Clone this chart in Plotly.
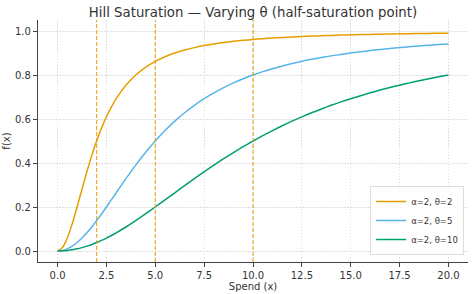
import plotly.graph_objects as go

x_vals = [0.0, 0.25, 0.5, 0.75, 1.0, 1.25, 1.5, 1.75, 2.0, 2.25, 2.5, 2.75, 3.0, 3.5, 4.0, 4.5,
          5.0, 5.5, 6.0, 6.5, 7.0, 7.5, 8.0, 8.5, 9.0, 9.5, 10.0, 10.5, 11.0, 11.5, 12.0,
          12.5, 13.0, 13.5, 14.0, 14.5, 15.0, 15.5, 16.0, 16.5, 17.0, 17.5, 18.0, 18.5,
          19.0, 19.5, 20.0]

f_theta2 = [0.0, 0.0154, 0.0588, 0.1233, 0.2, 0.2809, 0.36, 0.4336, 0.5, 0.5586, 0.6098,
            0.6541, 0.6923, 0.7538, 0.8, 0.8351, 0.8621, 0.8832, 0.9, 0.9135, 0.9245,
            0.9336, 0.9412, 0.9475, 0.9529, 0.9576, 0.9615, 0.9650, 0.968, 0.9706, 0.9730,
            0.9750, 0.9769, 0.9785, 0.98, 0.9813, 0.9825, 0.9836, 0.9846, 0.9855, 0.9863,
            0.9871, 0.9878, 0.9884, 0.9890, 0.9896, 0.9901]

f_theta5 = [0.0, 0.0025, 0.0099, 0.0220, 0.0385, 0.0588, 0.0826, 0.1091, 0.1379, 0.1684,
            0.2, 0.2322, 0.2647, 0.3289, 0.3902, 0.4475, 0.5, 0.5475, 0.5902, 0.6283,
            0.6622, 0.6923, 0.7191, 0.7429, 0.7642, 0.7831, 0.8, 0.8152, 0.8288, 0.8410,
            0.8521, 0.8621, 0.8711, 0.8794, 0.8869, 0.8937, 0.9, 0.9057, 0.9110, 0.9159,
            0.9204, 0.9245, 0.9284, 0.9319, 0.9352, 0.9383, 0.9412]

f_theta10 = [0.0, 0.0006, 0.0025, 0.0056, 0.0099, 0.0154, 0.0220, 0.0297, 0.0385, 0.0482,
             0.0588, 0.0703, 0.0826, 0.1091, 0.1379, 0.1684, 0.2, 0.2322, 0.2647, 0.2970,
             0.3289, 0.36, 0.3902, 0.4194, 0.4475, 0.4744, 0.5, 0.5244, 0.5475, 0.5694,
             0.5902, 0.6098, 0.6283, 0.6457, 0.6622, 0.6777, 0.6923, 0.7061, 0.7191, 0.7314,
             0.7429, 0.7538, 0.7642, 0.7739, 0.7831, 0.7918, 0.8]

series_names = ["α=2, θ=2", "α=2, θ=5", "α=2, θ=10"]
series_values = [f_theta2, f_theta5, f_theta10]
series_colors = ["#E69F00", "#56B4E9", "#009E73"]
theta_lines = [2, 5, 10]

x_ticks = [0, 2.5, 5, 7.5, 10, 12.5, 15, 17.5, 20]
y_ticks = [0.0, 0.2, 0.4, 0.6, 0.8, 1.0]

fig = go.Figure()
for name, vals, col in zip(series_names, series_values, series_colors):
    fig.add_trace(go.Scatter(x=x_vals, y=vals, mode="lines", name=name,
                             line=dict(color=col, width=1.5, shape="spline", smoothing=0.8)))

for t in theta_lines:
    fig.add_shape(type="line", x0=t, x1=t, y0=0, y1=1, xref="x", yref="paper",
                  line=dict(color="rgba(230,159,0,0.85)", width=1.2, dash="4px,2px"),
                  layer="above")

axis_common = dict(showline=True, linecolor="#444444", linewidth=1.2, ticks="outside",
                   ticklen=4, tickcolor="#444444", tickwidth=1, showgrid=True,
                   gridcolor="#e0e0e0", griddash="1.5px,1.5px", gridwidth=0.8, zeroline=False,
                   mirror=False, automargin=False,
                   tickfont=dict(size=10, color="#333333"))

fig.update_layout(
    width=474, height=294,
    margin=dict(l=38, r=6, t=20, b=32),
    paper_bgcolor="white", plot_bgcolor="white",
    font=dict(family="DejaVu Sans", color="#333333"),
    title=dict(text="Hill Saturation — Varying θ (half-saturation point)", x=0.5,
               xanchor="center", xref="paper", y=0.959, yref="container", yanchor="middle",
               font=dict(size=13.3, color="#333333")),
    xaxis=dict(range=[-1, 21], tickvals=x_ticks, tickformat=".1f",
               title=dict(text="Spend (x)", font=dict(size=10), standoff=2), **axis_common),
    yaxis=dict(range=[-0.05, 1.05], tickvals=y_ticks, tickformat=".1f",
               title=dict(text="f(x)", font=dict(size=10), standoff=2), **axis_common),
    legend=dict(x=0.991, y=0.029, xanchor="right", yanchor="bottom",
                bgcolor="rgba(255,255,255,0.85)", bordercolor="#dddddd", borderwidth=1,
                font=dict(size=8.5), itemwidth=30, tracegroupgap=0),
    showlegend=True,
)

fig.write_html("out.html")
